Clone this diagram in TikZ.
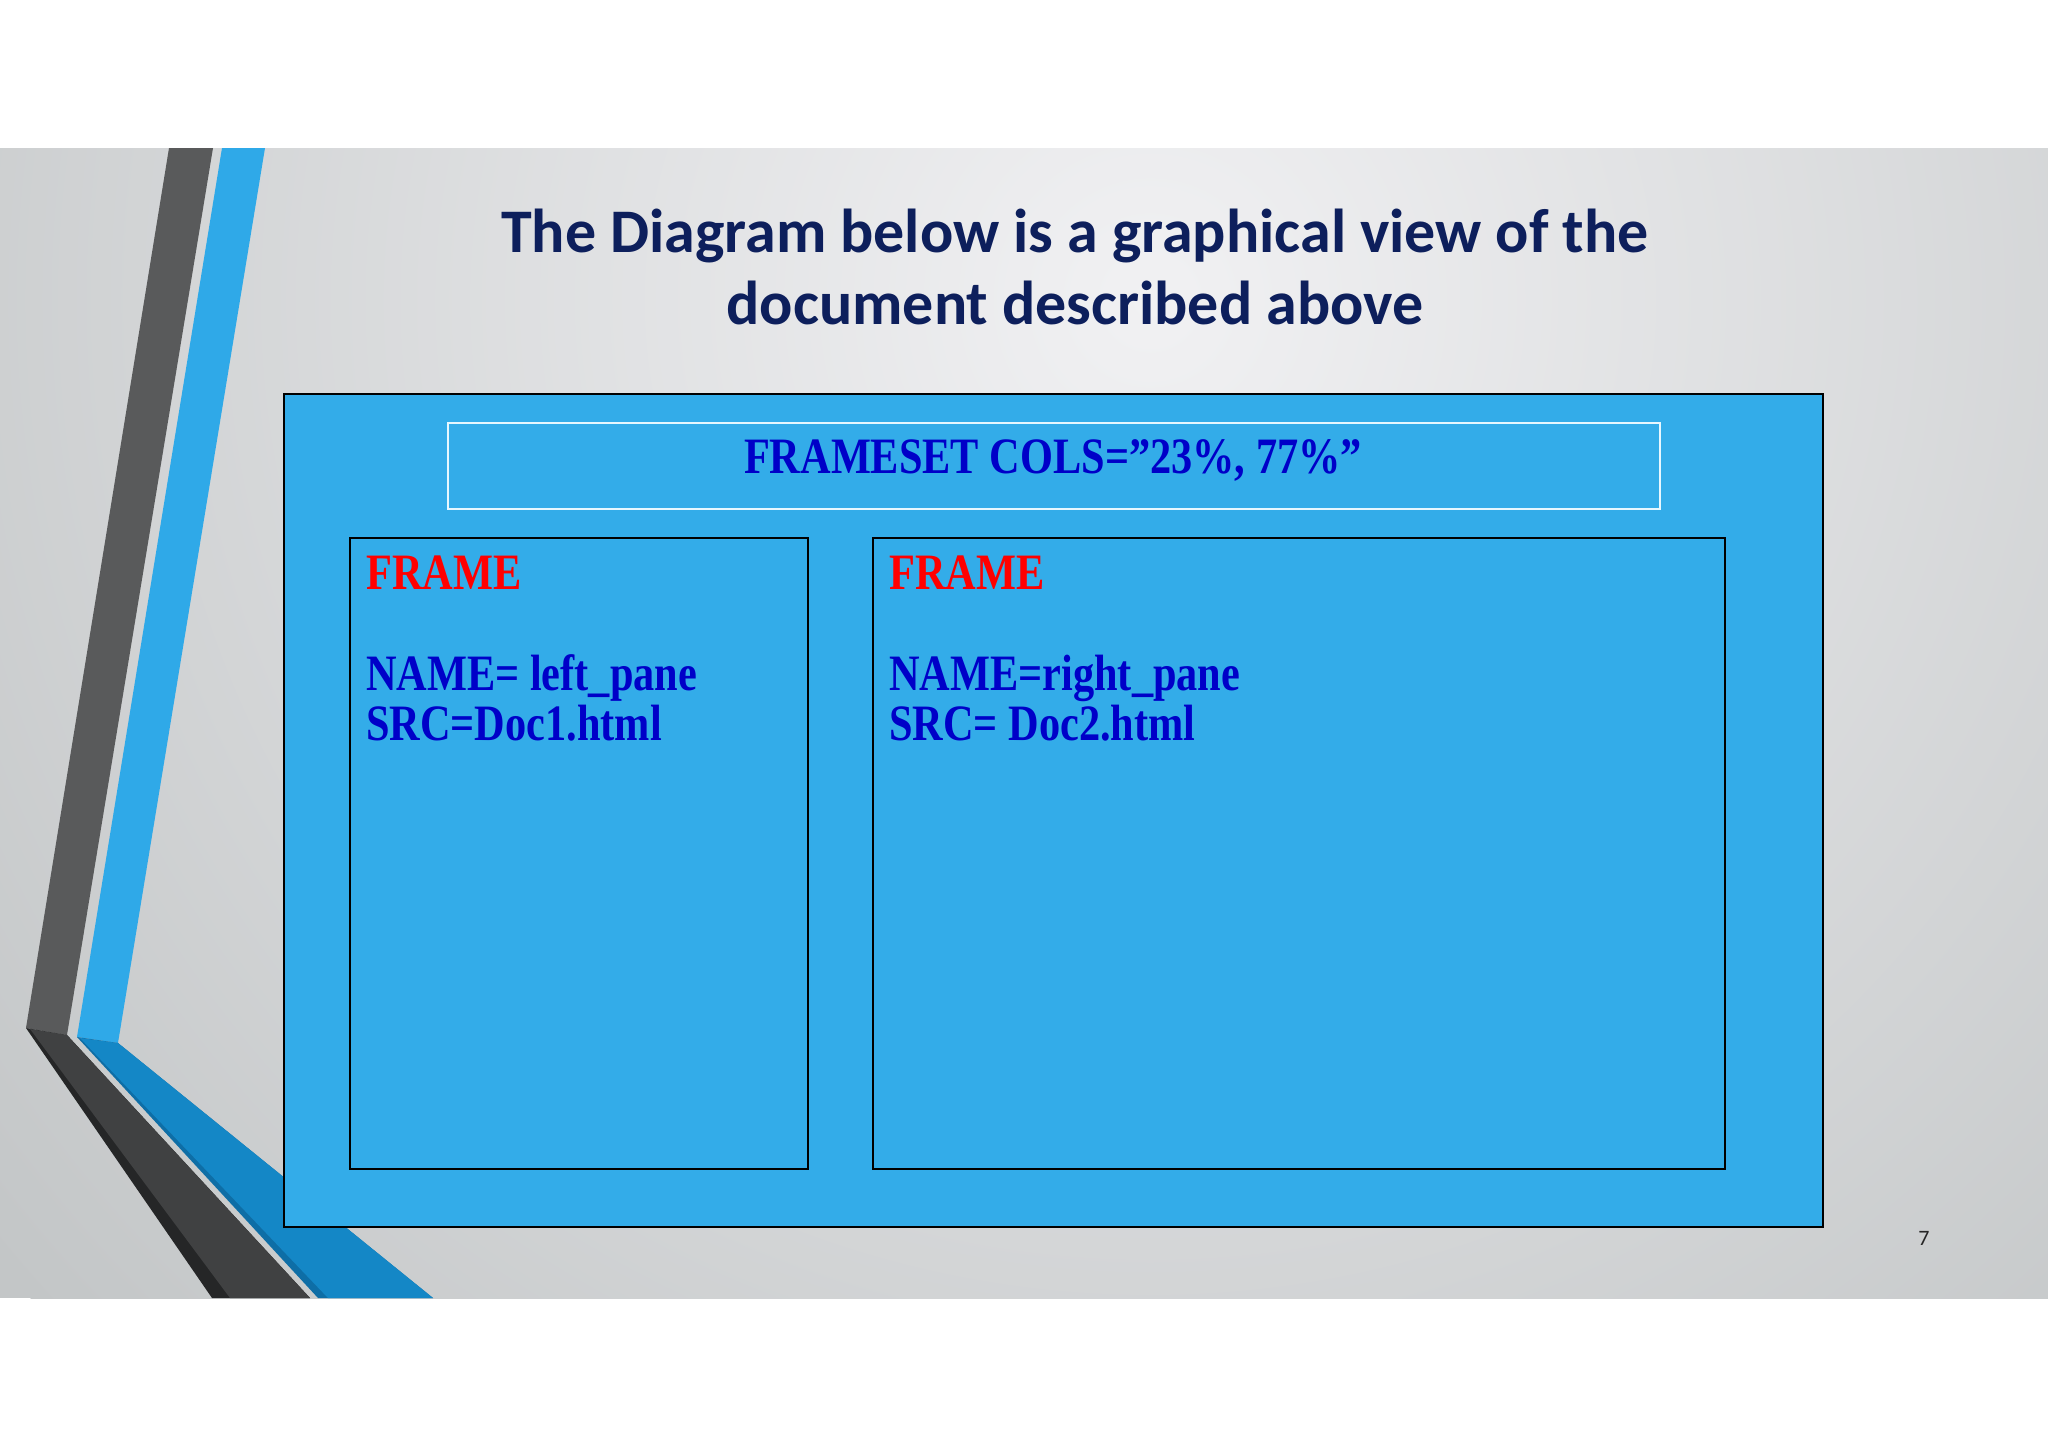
\documentclass[tikz,border=0pt]{standalone}
\usepackage{fontspec}
\setmainfont{Liberation Serif}
\newfontfamily\titlefont{Carlito}
\newfontfamily\framefont{Liberation Serif}[FakeStretch=0.83]
\definecolor{bgtop}{HTML}{F1F1F3}
\definecolor{bgout}{HTML}{C3C6C7}
\definecolor{darkbar}{HTML}{595A5B}
\definecolor{darkdiag}{HTML}{404142}
\definecolor{darkedge}{HTML}{252627}
\definecolor{bluebar}{HTML}{2FA9E8}
\definecolor{bluediag}{HTML}{1487C6}
\definecolor{blueedge}{HTML}{0E6EA6}
\definecolor{boxfill}{HTML}{33ACE9}
\definecolor{titleblue}{HTML}{0D1F5C}
\definecolor{textblue}{HTML}{0000C8}
\definecolor{framered}{HTML}{FF0000}
\definecolor{setline}{HTML}{E6F7FF}
\tikzset{
  panel/.style={draw=black, line width=1.6pt, fill=boxfill, anchor=north west, inner sep=0pt},
  setbox/.style={draw=setline, line width=1.8pt, fill=boxfill, anchor=north west, inner sep=0pt},
  titletext/.style={font=\titlefont\bfseries\fontsize{62}{72}\selectfont, text=titleblue, align=center, inner sep=0pt},
  ftext/.style={font=\framefont\bfseries\fontsize{51}{51}\selectfont, text=textblue, anchor=base west, inner sep=0pt},
  fhead/.style={ftext, text=framered},
}
\begin{document}
\begin{tikzpicture}[x=1pt,y=-1pt]
\useasboundingbox (0,0) rectangle (2048,1448);
\fill[white] (0,0) rectangle (2048,1448);
% background band
\begin{scope}
\clip (0,148) rectangle (2048,1298);
\fill[bgout] (0,148) rectangle (2048,1298);
\shade[inner color=bgtop, outer color=bgout] (1150,300) circle (1500);
\end{scope}
% decoration
\fill[darkbar] (169,148) -- (213,148) -- (67,1035) -- (26,1028) -- cycle;
\fill[bluebar] (222,148) -- (265,148) -- (118,1043) -- (77,1037) -- cycle;
\fill[darkedge] (26,1028) -- (67,1035) -- (310,1298) -- (212,1298) -- cycle;
\fill[darkdiag] (30,1029) -- (67,1035) -- (310,1298) -- (230,1298) -- cycle;
\fill[blueedge] (77,1037) -- (118,1043) -- (433,1298) -- (318,1298) -- cycle;
\fill[bluediag] (80,1038) -- (118,1043) -- (433,1298) -- (328,1298) -- cycle;
% title
\node[titletext, anchor=base] (title1) at (1075,252) {The Diagram below is a graphical view of the};
\node[titletext, anchor=base] (title2) at (1075,324) {document described above};
% boxes
\node[panel, minimum width=1539pt, minimum height=833pt] (outer) at (283,393) {};
\node[setbox, minimum width=1212pt, minimum height=86pt] (frameset) at (447,422) {};
\node[ftext, anchor=base] (settext) at (1053,473) {FRAMESET COLS=”23\%, 77\%”};
\node[panel, minimum width=458pt, minimum height=631pt] (leftframe) at (349,537) {};
\node[panel, minimum width=852pt, minimum height=631pt] (rightframe) at (872,537) {};
\node[fhead] (lhead) at (366,589) {FRAME};
\node[ftext] (lname) at (366,690) {NAME= left\_pane};
\node[ftext] (lsrc) at (366,740) {SRC=Doc1.html};
\node[fhead] (rhead) at (889,589) {FRAME};
\node[ftext] (rname) at (889,690) {NAME=right\_pane};
\node[ftext] (rsrc) at (889,740) {SRC= Doc2.html};
% page number
\node[font=\titlefont\fontsize{22}{22}\selectfont, text=black!85, anchor=base] (pagenum) at (1924,1245) {7};
\end{tikzpicture}
\end{document}
